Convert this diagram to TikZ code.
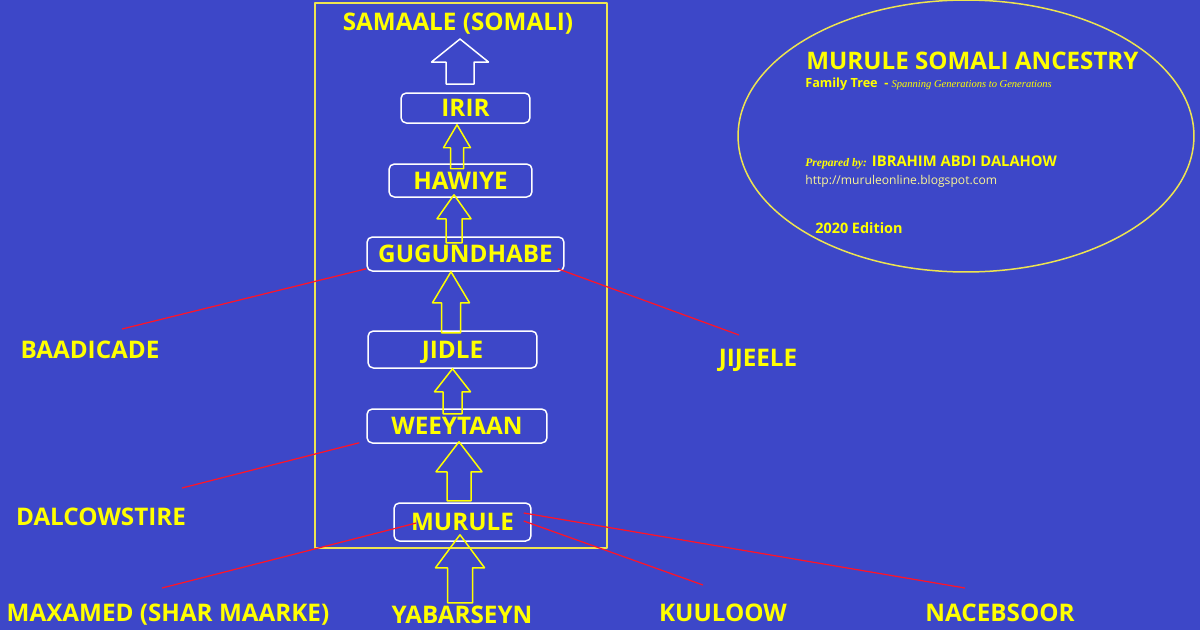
\documentclass[tikz,border=0pt]{standalone}
\usepackage{fontspec}
\setmainfont{Open Sans}
\newfontfamily\handfont{Liberation Serif}
\usetikzlibrary{calc}
\definecolor{bgblue}{RGB}{61,71,200}
\definecolor{tagyellow}{RGB}{255,255,0}
\definecolor{paleyellow}{RGB}{250,245,150}
\definecolor{frameyellow}{RGB}{238,228,80}
\definecolor{branchred}{RGB}{255,20,40}
\def\blockup[#1](#2)(#3:#4:#5:#6){\draw[#1,shift={(#2)}] (0,0) -- (#4,#3) -- (#5,#3) -- (#5,#6) -- (-#5,#6) -- (-#5,#3) -- (-#4,#3) -- cycle;}
\tikzset{
  tag/.style={inner sep=0pt, text=tagyellow, text height=9.8pt, text depth=0pt,
    font=\bfseries\fontsize{13.8}{16}\selectfont},
  clan/.style={tag, draw=white, line width=0.85pt, rounded corners=3pt},
  goldarrow/.style={draw=tagyellow, line width=0.85pt},
  whitearrow/.style={draw=white, line width=0.85pt},
  branch/.style={draw=branchred, line width=0.7pt},
  note/.style={anchor=base west, inner sep=0pt, text=tagyellow}
}
\begin{document}
\begin{tikzpicture}[x=0.02cm, y=-0.02cm, line join=round]
			%%%%% START %%%%%
			
			\fill[bgblue] (0,0) rectangle (1200,630);
			\useasboundingbox (0,0) rectangle (1200,630);
			
			\draw[frameyellow, line width=1.1pt] (315,3) rectangle (607,548);
			\draw[frameyellow, line width=0.85pt] (966,136) ellipse [x radius=4.56cm, y radius=2.72cm];
			
			\node[tag] (samaale) at (458,22) {SAMAALE (SOMALI)};
			\node[clan, minimum width=2.58cm, minimum height=0.60cm] (irir) at (465.5,108) {IRIR};
			\node[clan, minimum width=2.86cm, minimum height=0.66cm] (hawiye) at (460.5,180.5) {HAWIYE};
			\node[clan, minimum width=3.94cm, minimum height=0.68cm] (gugundhabe) at (465.5,254) {GUGUNDHABE};
			\node[clan, minimum width=3.38cm, minimum height=0.74cm] (jidle) at (452.5,349.5) {JIDLE};
			\node[clan, minimum width=3.60cm, minimum height=0.68cm] (weeytaan) at (457,426) {WEEYTAAN};
			\node[clan, minimum width=2.74cm, minimum height=0.76cm] (murule) at (462.5,522) {MURULE};
			
			\node[tag] (baadicade) at (90,350) {BAADICADE};
			\node[tag] (jijeele) at (758,358) {JIJEELE};
			\node[tag] (dalcowstire) at (101,517) {DALCOWSTIRE};
			\node[tag] (maxamed) at (168,613) {MAXAMED (SHAR MAARKE)};
			\node[tag] (yabarseyn) at (462,615) {YABARSEYN};
			\node[tag] (kuuloow) at (723,613) {KUULOOW};
			\node[tag] (nacebsoor) at (1000,613) {NACEBSOOR};
			
			\blockup[whitearrow](460,39)(23:28.5:14:45)
			\blockup[goldarrow]([shift={(-8.5,1)}]irir.south)(23:13.5:6.5:44)
			\blockup[goldarrow]([shift={(-6.5,-3)}]hawiye.south)(24:17:8:48)
			\blockup[goldarrow]([shift={(-14.5,0)}]gugundhabe.south)(31:18.5:9.5:61)
			\blockup[goldarrow](jidle.south)(23:18:9.5:45)
			\blockup[goldarrow]([shift={(2,-2)}]weeytaan.south)(30:23:12:59)
			\blockup[goldarrow]([shift={(-2.5,-7)}]murule.south)(33:24.5:12.5:68)
			
			\coordinate (toBaadicade) at (122,329);
			\coordinate (toJijeele) at (739,335);
			\coordinate (toDalcowstire) at (182,488);
			\coordinate (toMaxamed) at (162,588);
			\coordinate (toKuuloow) at (703,585);
			\coordinate (toNacebsoor) at (965,588);
			\draw[branch] ($(gugundhabe.south west)+(0,-3)$) -- (toBaadicade);
			\draw[branch] ($(gugundhabe.south east)+(-7,-3)$) -- (toJijeele);
			\draw[branch] ($(weeytaan.south west)+(-7,-1)$) -- (toDalcowstire);
			\draw[branch] ($(murule.west)+(23,1)$) -- (toMaxamed);
			\draw[branch] ($(murule.east)+(-8,-1)$) -- (toKuuloow);
			\draw[branch] ($(murule.east)+(-8,-9)$) -- (toNacebsoor);
			
			\node[note, font=\bfseries\fontsize{13.75}{17}\selectfont] (title) at (806,69) {MURULE SOMALI ANCESTRY};
			\node[note, font=\bfseries\fontsize{7.2}{9}\selectfont] (subtitle) at (805,87) {Family Tree \ - {\handfont\mdseries\itshape\fontsize{6}{9}\selectfont Spanning Generations to Generations}};
			\node[note, font=\bfseries\fontsize{8.4}{11}\selectfont] (author) at (805,166) {{\handfont\itshape\fontsize{6.6}{9}\selectfont Prepared by:} IBRAHIM ABDI DALAHOW};
			\node[note, text=paleyellow, font=\fontsize{6.9}{9}\selectfont] (site) at (805,184) {http://muruleonline.blogspot.com};
			\node[note, font=\bfseries\fontsize{8.2}{10}\selectfont] (edition) at (815,233) {2020 Edition};
			
			%%%%% END %%%%%
\end{tikzpicture}
\end{document}
